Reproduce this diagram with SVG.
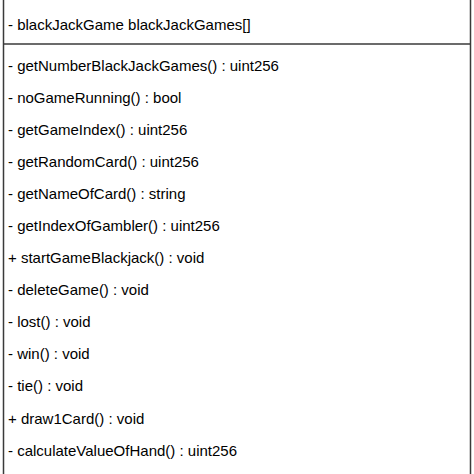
<svg xmlns="http://www.w3.org/2000/svg" width="474" height="474" viewBox="0 0 474 474">
<style>
.t{font-family:"Liberation Sans",Arial,sans-serif;font-size:15px;fill:#000}
.b{stroke:#3a3a3a;stroke-width:1.5;fill:none}
</style>
<rect width="474" height="474" fill="#fff"/>
<g id="class">
<line class="b" x1="3.5" y1="0" x2="3.5" y2="474"/>
<line class="b" x1="470.5" y1="0" x2="470.5" y2="474"/>
<line class="b" x1="3.5" y1="44" x2="470.5" y2="44"/>
<text class="t" x="8" y="30">- blackJackGame blackJackGames[]</text>
<text class="t" x="8" y="71">- getNumberBlackJackGames() : uint256</text>
<text class="t" x="8" y="103">- noGameRunning() : bool</text>
<text class="t" x="8" y="135">- getGameIndex() : uint256</text>
<text class="t" x="8" y="167">- getRandomCard() : uint256</text>
<text class="t" x="8" y="199">- getNameOfCard() : string</text>
<text class="t" x="8" y="231">- getIndexOfGambler() : uint256</text>
<text class="t" x="8" y="263">+ startGameBlackjack() : void</text>
<text class="t" x="8" y="295">- deleteGame() : void</text>
<text class="t" x="8" y="327">- lost() : void</text>
<text class="t" x="8" y="359">- win() : void</text>
<text class="t" x="8" y="391">- tie() : void</text>
<text class="t" x="8" y="424">+ draw1Card() : void</text>
<text class="t" x="8" y="456">- calculateValueOfHand() : uint256</text>
</g>
</svg>
